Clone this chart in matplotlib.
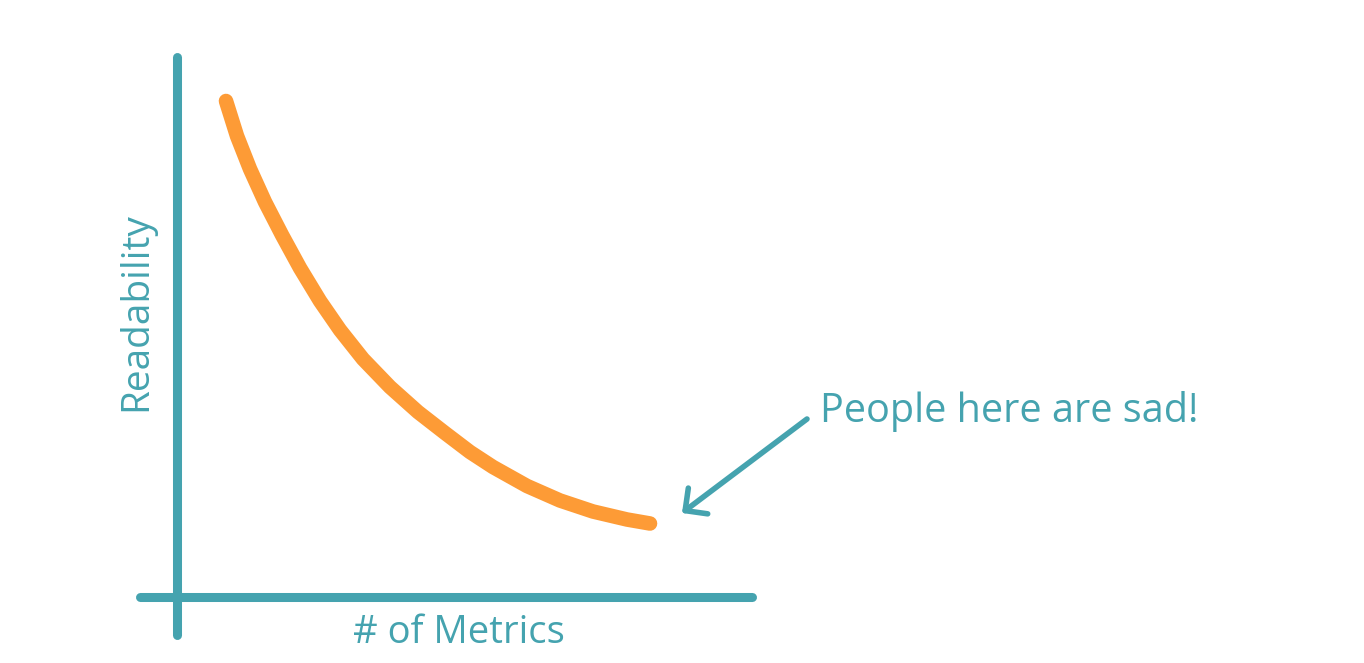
import matplotlib.pyplot as plt

# curve (units: arbitrary, origin at axis crossing)
metrics = [0.98, 1.20, 1.46, 1.76, 2.10, 2.46, 2.86, 3.26, 3.72, 4.26,
           4.82, 5.36, 5.86, 6.32, 7.0, 7.66, 8.32, 9.0, 9.46]
readability = [9.92, 9.22, 8.56, 7.90, 7.24, 6.58, 5.92, 5.34, 4.76, 4.20,
               3.70, 3.28, 2.90, 2.60, 2.22, 1.93, 1.71, 1.55, 1.47]

x_axis_span = [-0.74, 11.5]
y_axis_span = [-0.76, 10.8]

note_text = 'People here are sad!'
note_tip = (10.1, 1.68)
note_tail = (12.6, 3.56)
note_pos = (12.86, 3.5)

teal = '#45a3af'
orange = '#fd9b36'

plt.rcParams['font.family'] = ['Open Sans', 'DejaVu Sans']

fig = plt.figure(figsize=(13.64, 6.63), dpi=100)
ax = fig.add_axes([0, 0, 1, 1])
ax.set_xlim(-3.54, 23.74)
ax.set_ylim(-1.32, 11.94)
ax.axis('off')

ax.plot(x_axis_span, [0, 0], color=teal, lw=6.5, solid_capstyle='round')
ax.plot([0, 0], y_axis_span, color=teal, lw=6.5, solid_capstyle='round')

ax.plot(metrics, readability, color=orange, lw=10.5,
        solid_capstyle='round', solid_joinstyle='round')

ax.annotate('', xy=note_tip, xytext=note_tail,
            arrowprops=dict(arrowstyle='->, head_length=0.58, head_width=0.58',
                            color=teal, lw=4, mutation_scale=20, shrinkA=0, shrinkB=0))
ax.text(note_pos[0], note_pos[1], note_text, color=teal, fontsize=28.5,
        ha='left', va='baseline')

ax.text(5.64, -0.72, '# of Metrics', color=teal, fontsize=27.5, ha='center', va='center')
ax.text(-0.82, 5.7, 'Readability', color=teal, fontsize=28, ha='center', va='center',
        rotation=90)

fig.savefig('out.png', dpi=100)
